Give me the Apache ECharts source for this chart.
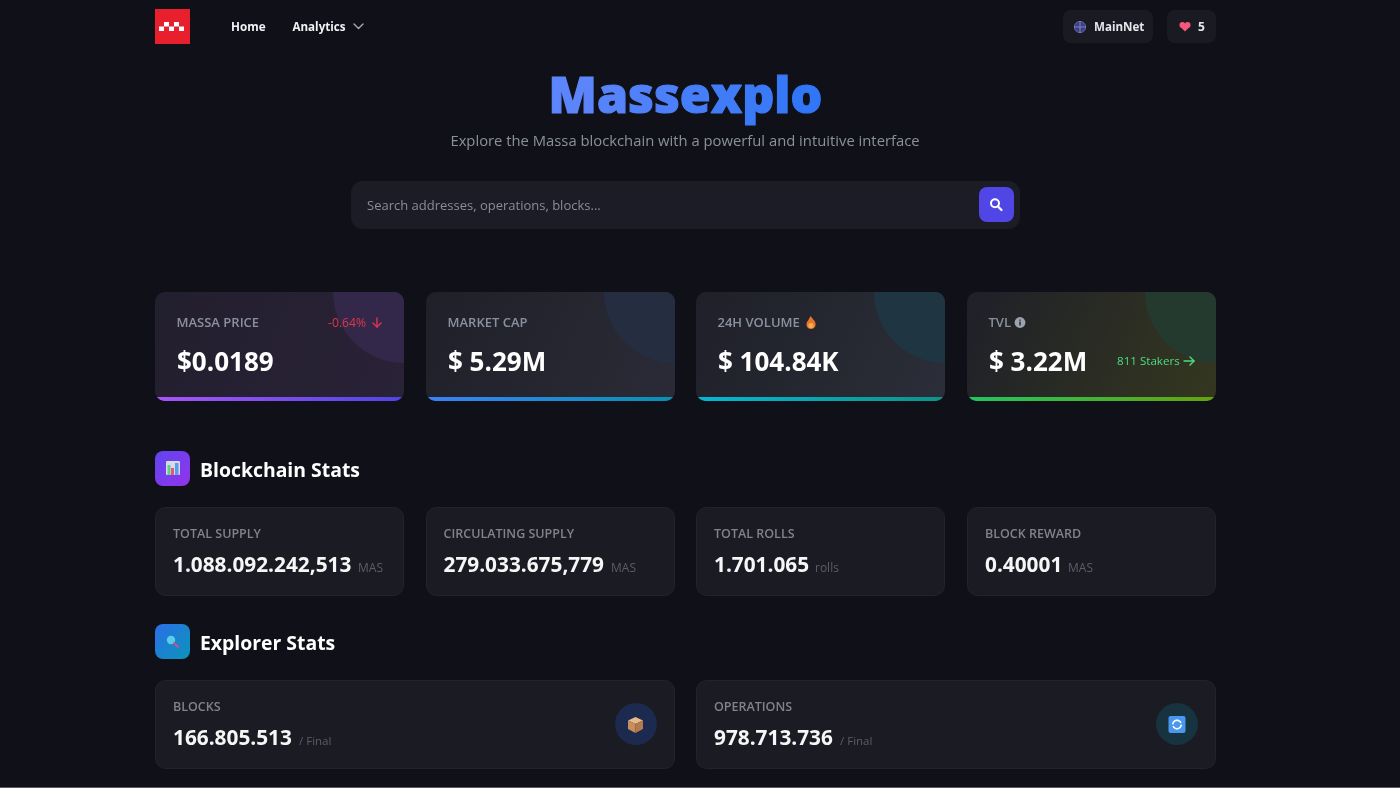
<!DOCTYPE html>
<html>
<head>
<meta charset="utf-8">
<title>Massexplo</title>
<style>
    html, body { margin: 0; padding: 0; background: #101118; }
    #main { width: 1400px; height: 788px; }
</style>
<script src="https://cdn.jsdelivr.net/npm/echarts@6/dist/echarts.min.js"></script>
</head>
<body>
<div id="main"></div>
<script>
// 页面上的文字和数值
var navItems = ['Home', 'Analytics'];
var networkName = 'MainNet';
var likeCount = '5';
var titleText = 'Massexplo';
var subtitleText = 'Explore the Massa blockchain with a powerful and intuitive interface';
var searchHint = 'Search addresses, operations, blocks...';

var priceLabels = ['MASSA PRICE', 'MARKET CAP', '24H VOLUME', 'TVL'];
var priceValues = ['$0.0189', '$ 5.29M', '$ 104.84K', '$ 3.22M'];
var priceChange = '-0.64%';
var stakersText = '811 Stakers';

var chainTitle = 'Blockchain Stats';
var chainLabels = ['TOTAL SUPPLY', 'CIRCULATING SUPPLY', 'TOTAL ROLLS', 'BLOCK REWARD'];
var chainValues = ['1.088.092.242,513', '279.033.675,779', '1.701.065', '0.40001'];
var chainUnits = ['MAS', 'MAS', 'rolls', 'MAS'];

var explorerTitle = 'Explorer Stats';
var explorerLabels = ['BLOCKS', 'OPERATIONS'];
var explorerValues = ['166.805.513', '978.713.736'];
var explorerUnit = '/ Final';

var FONT = '"Open Sans", "Noto Sans", sans-serif';
var els = [];

function txt(x, y, text, size, weight, fill, align) {
    els.push({
        type: 'text',
        style: {
            x: x, y: y, text: text, fill: fill,
            font: weight + ' ' + size + 'px ' + FONT,
            align: align || 'left', verticalAlign: 'middle'
        }
    });
}

function rrect(x, y, w, h, r, fill, stroke) {
    els.push({
        type: 'rect',
        shape: { x: x, y: y, width: w, height: h, r: r },
        style: { fill: fill, stroke: stroke || null, lineWidth: stroke ? 1 : 0 }
    });
}

function circle(cx, cy, r, fill, stroke, lw) {
    els.push({
        type: 'circle',
        shape: { cx: cx, cy: cy, r: r },
        style: { fill: fill || 'none', stroke: stroke || null, lineWidth: lw || 0 }
    });
}

function line(points, stroke, lw) {
    els.push({
        type: 'polyline',
        shape: { points: points },
        style: { fill: 'none', stroke: stroke, lineWidth: lw, lineCap: 'round', lineJoin: 'round' }
    });
}

function poly(points, fill) {
    els.push({ type: 'polygon', shape: { points: points }, style: { fill: fill } });
}

function grad(x2, y2, c0, c1) {
    return { type: 'linear', x: 0, y: 0, x2: x2, y2: y2, colorStops: [{ offset: 0, color: c0 }, { offset: 1, color: c1 }] };
}

function arcPts(cx, cy, r, a0, a1, n) {
    var out = [];
    for (var i = 0; i <= n; i++) {
        var a = (a0 + (a1 - a0) * i / n) * Math.PI / 180;
        out.push([cx + r * Math.cos(a), cy + r * Math.sin(a)]);
    }
    return out;
}

// 卡片右上角的圆形色块，要裁进卡片的圆角里
function cornerBlob(right, top, r, corner, fill) {
    var pts = arcPts(right, top, r, 180, 90, 60);
    pts = pts.concat(arcPts(right - corner, top + corner, corner, 0, -90, 12));
    poly(pts, fill);
}

// 卡片底部的彩色条
function bottomBar(x, bottom, w, h, corner, fill) {
    var a = Math.acos((corner - h) / corner) * 180 / Math.PI;
    var pts = arcPts(x + corner, bottom - corner, corner, 90 + a, 90, 10);
    pts = pts.concat(arcPts(x + w - corner, bottom - corner, corner, 90, 90 - a, 10));
    poly(pts, fill);
}

function arrow(x0, x1, y, color, size) {
    line([[x0, y], [x1, y]], color, 1.4);
    line([[x1 - size, y - size], [x1, y], [x1 - size, y + size]], color, 1.4);
}

// 标题文字的渐变画不出来，所以逐字上色，描边让字更粗
function gradientTitle(cx, y, text, font, c0, c1) {
    var ctx = document.createElement('canvas').getContext('2d');
    ctx.font = font;
    var total = ctx.measureText(text).width;
    var x = cx - total / 2;
    for (var i = 0; i < text.length; i++) {
        var t = i / (text.length - 1);
        var color = 'rgb(' + [0, 1, 2].map(function (k) {
            return Math.round(c0[k] + (c1[k] - c0[k]) * t);
        }).join(',') + ')';
        els.push({
            type: 'text',
            style: { x: x, y: y, text: text[i], fill: color, stroke: color, lineWidth: 1.2, font: font, align: 'left', verticalAlign: 'middle' }
        });
        x = cx - total / 2 + ctx.measureText(text.slice(0, i + 1)).width;
    }
}

// 顶部导航
rrect(155, 9, 35, 35, 0, '#e81f2c');
var logoCells = [[164, 22], [174, 22], [159, 26.5], [169, 26.5], [179, 26.5]];
for (var i = 0; i < logoCells.length; i++) {
    rrect(logoCells[i][0], logoCells[i][1], 5, 4.5, 0, '#ffffff');
}
txt(231, 28, navItems[0], 11.7, 700, '#f1f2f4');
txt(292.5, 28, navItems[1], 11.6, 700, '#f1f2f4');
line([[354, 24], [358.5, 28.5], [363, 24]], '#a8abb3', 1.4);

rrect(1063, 10, 90, 33, 8, '#1a1b22');
circle(1080, 27, 5.6, '#3b3f7a', '#6067b8', 1);
line([[1074.5, 27], [1085.5, 27]], '#8d92d8', 0.8);
line([[1080, 21.5], [1080, 32.5]], '#8d92d8', 0.8);
txt(1094, 28, networkName, 11.6, 700, '#e6e7ea');

rrect(1167, 10, 49, 33, 8, '#1a1b22');
circle(1182.4, 25, 2.9, '#f4597a');
circle(1187.6, 25, 2.9, '#f4597a');
poly([[1179.7, 26.2], [1190.3, 26.2], [1185, 31.5]], '#f4597a');
txt(1198, 28, likeCount, 12, 700, '#e6e7ea');

// 标题和搜索框
gradientTitle(685.5, 99, titleText, '800 50px ' + FONT, [92, 133, 251], [48, 118, 246]);
txt(685, 142, subtitleText, 14.8, 400, '#8b919c', 'center');

rrect(351, 181, 669, 48, 12, '#1b1c25');
txt(367, 206, searchHint, 13, 400, '#8a8d96');
rrect(979, 187, 35, 35, 8, '#4f46e5');
circle(995, 203.3, 4, 'none', '#ffffff', 2);
line([[998, 206.5], [1001.5, 210]], '#ffffff', 2.2);

// 价格卡片
var cardX = [155, 426, 696, 967];
var cardW = 249;
var cardFills = [
    grad(1, 1, '#221f2e', '#2a2237'),
    grad(1, 1, '#1f2029', '#2b2b37'),
    grad(1, 1, '#1f2029', '#2b2e38'),
    grad(1, 1, '#1f2029', '#34371f')
];
var blobFills = ['#33274a', '#252d41', '#1f3541', '#243a2f'];
var barFills = [
    grad(1, 0, '#a855f7', '#4f46e5'),
    grad(1, 0, '#3b82f6', '#0891b2'),
    grad(1, 0, '#06b6d4', '#0d9488'),
    grad(1, 0, '#22c55e', '#65a30d')
];
for (var i = 0; i < 4; i++) {
    rrect(cardX[i], 292, cardW, 109, 10, cardFills[i]);
    cornerBlob(cardX[i] + cardW, 292, 71, 10, blobFills[i]);
    bottomBar(cardX[i], 401, cardW, 4, 10, barFills[i]);
    txt(cardX[i] + 21.5, 323, priceLabels[i], 13, 600, '#8a919e');
    txt(cardX[i] + 22, 364, priceValues[i], 26, 700, '#ffffff');
}
txt(328, 323.5, priceChange, 12.2, 400, '#e0354c');
line([[377, 318], [377, 327]], '#e0354c', 1.4);
line([[373, 323], [377, 327], [381, 323]], '#e0354c', 1.4);

// 火苗
circle(811, 324.5, 4.6, '#e8742c');
poly([[806.8, 323], [810.5, 316], [814.5, 321], [815.5, 324]], '#e8742c');
circle(811, 325.5, 2.6, '#f6b24a');

// TVL 的提示图标
circle(1020, 322.5, 5.4, '#9ca3af');
rrect(1019.3, 321.6, 1.4, 3.8, 0, '#24262e');
rrect(1019.3, 319.4, 1.4, 1.4, 0, '#24262e');

txt(1117, 361.5, stakersText, 11.6, 400, '#4ade80');
arrow(1184, 1194, 361, '#4ade80', 4);

// Blockchain Stats
rrect(155, 451, 35, 35, 8, grad(1, 1, '#5f46f0', '#9333ea'));
rrect(166, 461, 14, 14, 1, '#d7dbe6');
rrect(167.5, 465, 3, 10, 0, '#5fd08c');
rrect(171, 468, 3, 7, 0, '#e4567c');
rrect(175, 463, 3.5, 12, 0, '#5a9bf0');
txt(200, 471, chainTitle, 19.4, 700, '#ffffff');

var unitX = [358, 611, 815, 1068];
for (var i = 0; i < 4; i++) {
    rrect(cardX[i] + 0.5, 507.5, cardW - 1, 88, 10, '#1a1b23', '#22242b');
    txt(cardX[i] + 18 - (i == 1 ? 0.5 : 0), 534.5, chainLabels[i], 12.5, 600, '#80838d');
    txt(cardX[i] + 18 - (i == 1 ? 0.5 : 0), 566, chainValues[i], 20.8, 700, '#f6f6f7');
    txt(unitX[i], 568.5, chainUnits[i], 12, 400, '#5b5e68');
}

// Explorer Stats
rrect(155, 624, 35, 35, 8, grad(1, 1, '#2a6fe8', '#0c94b8'));
circle(171, 640, 4.2, '#58cfe8');
line([[174, 643], [178, 647]], '#d0508a', 1.8);
txt(200, 644, explorerTitle, 19.4, 700, '#ffffff');

var wideX = [155, 696];
var wideUnitX = [299, 840];
var iconX = [636, 1177];
var iconFills = ['#1b2a4e', '#17333f'];
for (var i = 0; i < 2; i++) {
    rrect(wideX[i] + 0.5, 680.5, 519, 88, 10, '#1a1b23', '#22242b');
    txt(wideX[i] + 18, 707.5, explorerLabels[i], 12.5, 600, '#80838d');
    txt(wideX[i] + 18, 739, explorerValues[i], 20.8, 700, '#f6f6f7');
    txt(wideUnitX[i], 741.5, explorerUnit, 11.5, 400, '#5b5e68');
    circle(iconX[i], 724, 21, iconFills[i]);
}

// 包裹图标
poly([[635.5, 717], [643, 720.5], [635.5, 724], [628, 720.5]], '#e7b98a');
poly([[628, 720.5], [635.5, 724], [635.5, 733], [628, 729]], '#c98d5e');
poly([[643, 720.5], [635.5, 724], [635.5, 733], [643, 729]], '#b5794c');

// 刷新图标
rrect(1168.5, 716, 17, 17, 2, '#4a97f0');
line(arcPts(1177, 724.5, 4.2, 190, 330, 14), '#ffffff', 1.6);
line(arcPts(1177, 724.5, 4.2, 10, 150, 14), '#ffffff', 1.6);

// 截图底部的细线
rrect(0, 787, 1400, 1, 0, '#5a5c62');

var myChart = echarts.init(document.getElementById('main'));
myChart.setOption({
    backgroundColor: '#101118',
    animation: false,
    graphic: { elements: els }
});
</script>
</body>
</html>
